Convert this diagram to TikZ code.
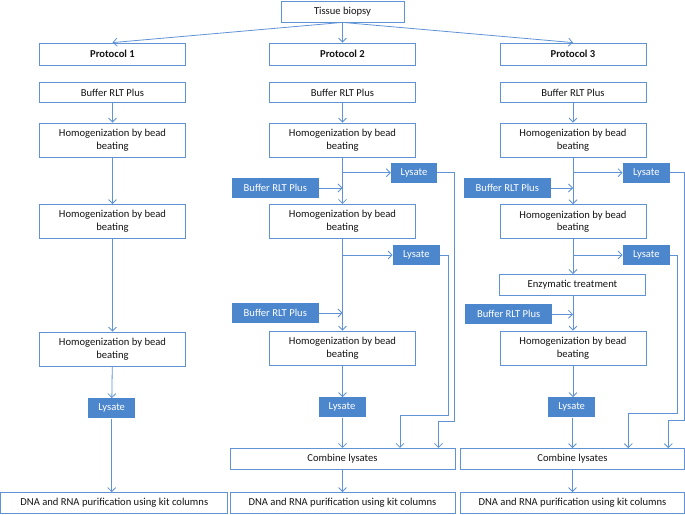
\documentclass[tikz,border=0pt]{standalone}
\usepackage{fontspec}
\setmainfont{Carlito}
\usetikzlibrary{arrows.meta}

\definecolor{flowline}{RGB}{96,146,214}
\definecolor{flowfill}{RGB}{76,135,206}
\definecolor{flowtext}{RGB}{20,20,20}

\begin{document}
\begin{tikzpicture}[x=1pt, y=-1pt,
        box/.style={draw=flowline, line width=0.8pt, fill=white, text=flowtext,
            minimum width=146pt, minimum height=21pt, inner sep=1pt, font=\fontsize{10.6}{12.6}\selectfont, align=center},
        hombox/.style={box, minimum height=34pt},
        widebox/.style={box, minimum width=225pt},
        solid/.style={fill=flowfill, text=white, minimum height=20pt, inner sep=1pt, font=\fontsize{10.6}{12.6}\selectfont},
        lys/.style={solid, minimum width=47pt},
        bufside/.style={solid, minimum width=87pt},
        arr/.style={draw=flowline, line width=0.8pt, -{Straight Barb[length=4pt,width=8pt]}},
        link/.style={draw=flowline, line width=0.8pt}]
        \useasboundingbox (0,0) rectangle (685,514);

        % Top
        \node[box, minimum width=123pt] (bio) at (342.5,11.5) {Tissue biopsy};
        \node[box, minimum height=22pt, font=\fontsize{10.6}{12.6}\selectfont\bfseries] (p1) at (112.5,54) {Protocol 1};
        \node[box, minimum height=22pt, font=\fontsize{10.6}{12.6}\selectfont\bfseries] (p2) at (342.5,54) {Protocol 2};
        \node[box, minimum height=22pt, font=\fontsize{10.6}{12.6}\selectfont\bfseries] (p3) at (573,54) {Protocol 3};
        \draw[arr] (bio.south) -- (p1.north);
        \draw[arr] (bio.south) -- (p2.north);
        \draw[arr] (bio.south) -- (p3.north);

        % Protocol 1
        \node[box, minimum height=20pt] (p1buf) at (112.5,92.7) {Buffer RLT Plus};
        \node[hombox] (p1homa) at (112.5,140) {Homogenization by bead\\beating};
        \node[hombox] (p1homb) at (112.5,221.5) {Homogenization by bead\\beating};
        \node[hombox] (p1homc) at (112.5,349) {Homogenization by bead\\beating};
        \node[lys] (p1lys) at (111.7,408.3) {Lysate};
        \node[box, minimum width=227pt] (p1dna) at (114.3,503) {DNA and RNA purification using kit columns};
        \draw[arr] (p1buf) -- (p1homa);
        \draw[arr] (p1homa) -- (p1homb);
        \draw[arr] (p1homb) -- (p1homc);
        \draw[arr] (p1homc) -- (p1lys);
        \draw[arr] (p1lys) -- (p1dna.north -| p1lys);

        % Protocol 2
        \node[box, minimum height=20pt] (p2buf) at (342.5,92.7) {Buffer RLT Plus};
        \node[hombox] (p2homa) at (342.5,140) {Homogenization by bead\\beating};
        \node[lys, minimum width=46pt] (p2lysa) at (414,172.7) {Lysate};
        \node[bufside] (p2bufa) at (275.3,188) {Buffer RLT Plus};
        \node[hombox] (p2homb) at (342.5,221.3) {Homogenization by bead\\beating};
        \node[lys] (p2lysb) at (416.3,255) {Lysate};
        \node[bufside] (p2bufb) at (275.3,313) {Buffer RLT Plus};
        \node[hombox] (p2homc) at (342.5,348) {Homogenization by bead\\beating};
        \node[lys] (p2lysc) at (342,407.3) {Lysate};
        \node[widebox] (p2comb) at (342.5,458.8) {Combine lysates};
        \node[widebox] (p2dna) at (342.5,503) {DNA and RNA purification using kit columns};
        \draw[arr] (p2buf) -- (p2homa);
        \draw[arr] (p2homa) -- (p2homb);
        \draw[arr] (p2lysa -| p2homa) -- (p2lysa);
        \draw[arr] (p2bufa) -- (p2bufa -| p2homa);
        \draw[arr] (p2homb) -- (p2homc);
        \draw[arr] (p2lysb -| p2homb) -- (p2lysb);
        \draw[arr] (p2bufb) -- (p2bufb -| p2homb);
        \draw[arr] (p2homc) -- (p2lysc.north -| p2homc);
        \draw[arr] (p2lysc.south -| p2comb) -- (p2comb);
        \draw[arr] (p2comb) -- (p2dna);
        \draw[arr] (p2lysa.east) -- ++(17.3,0) -- ++(0,249) -- ++(-16,0) coordinate (p2ta) -- (p2ta |- p2comb.north);
        \draw[arr] (p2lysb.east) -- ++(8.3,0) -- ++(0,160) -- ++(-48.3,0) coordinate (p2tb) -- (p2tb |- p2comb.north);

        % Protocol 3
        \node[box, minimum height=20pt] (p3buf) at (573,92.7) {Buffer RLT Plus};
        \node[hombox] (p3homa) at (573,140) {Homogenization by bead\\beating};
        \node[lys] (p3lysa) at (646.3,172.7) {Lysate};
        \node[bufside] (p3bufa) at (507.3,188) {Buffer RLT Plus};
        \node[hombox] (p3homb) at (573,221.7) {Homogenization by bead\\beating};
        \node[lys] (p3lysb) at (646.3,255) {Lysate};
        \node[box, minimum height=20.5pt] (p3enz) at (572.5,284.7) {Enzymatic treatment};
        \node[bufside] (p3bufb) at (508.7,314.3) {Buffer RLT Plus};
        \node[hombox] (p3homc) at (573,348) {Homogenization by bead\\beating};
        \node[lys] (p3lysc) at (571.7,407.3) {Lysate};
        \node[box, minimum width=224pt] (p3comb) at (572.5,459) {Combine lysates};
        \node[box, minimum width=224pt] (p3dna) at (572.5,503) {DNA and RNA purification using kit columns};
        \draw[arr] (p3buf) -- (p3homa);
        \draw[arr] (p3homa) -- (p3homb);
        \draw[arr] (p3lysa -| p3homa) -- (p3lysa);
        \draw[arr] (p3bufa) -- (p3bufa -| p3homa);
        \draw[arr] (p3homb) -- (p3enz.north -| p3homb);
        \draw[arr] (p3lysb -| p3homb) -- (p3lysb);
        \draw[arr] (p3enz.south -| p3homc) -- (p3homc);
        \draw[arr] (p3bufb) -- (p3bufb -| p3homc);
        \draw[arr] (p3homc) -- (p3lysc.north -| p3homc);
        \draw[arr] (p3lysc.south -| p3comb) -- (p3comb);
        \draw[arr] (p3comb) -- (p3dna);
        \draw[arr] (p3lysa.east) -- ++(14,0) -- ++(0,248) -- ++(-15.7,0) coordinate (p3ta) -- (p3ta |- p3comb.north);
        \draw[arr] (p3lysb.east) -- ++(7.3,0) -- ++(0,158.3) -- ++(-49,0) coordinate (p3tb) -- (p3tb |- p3comb.north);
    \end{tikzpicture}
\end{document}
